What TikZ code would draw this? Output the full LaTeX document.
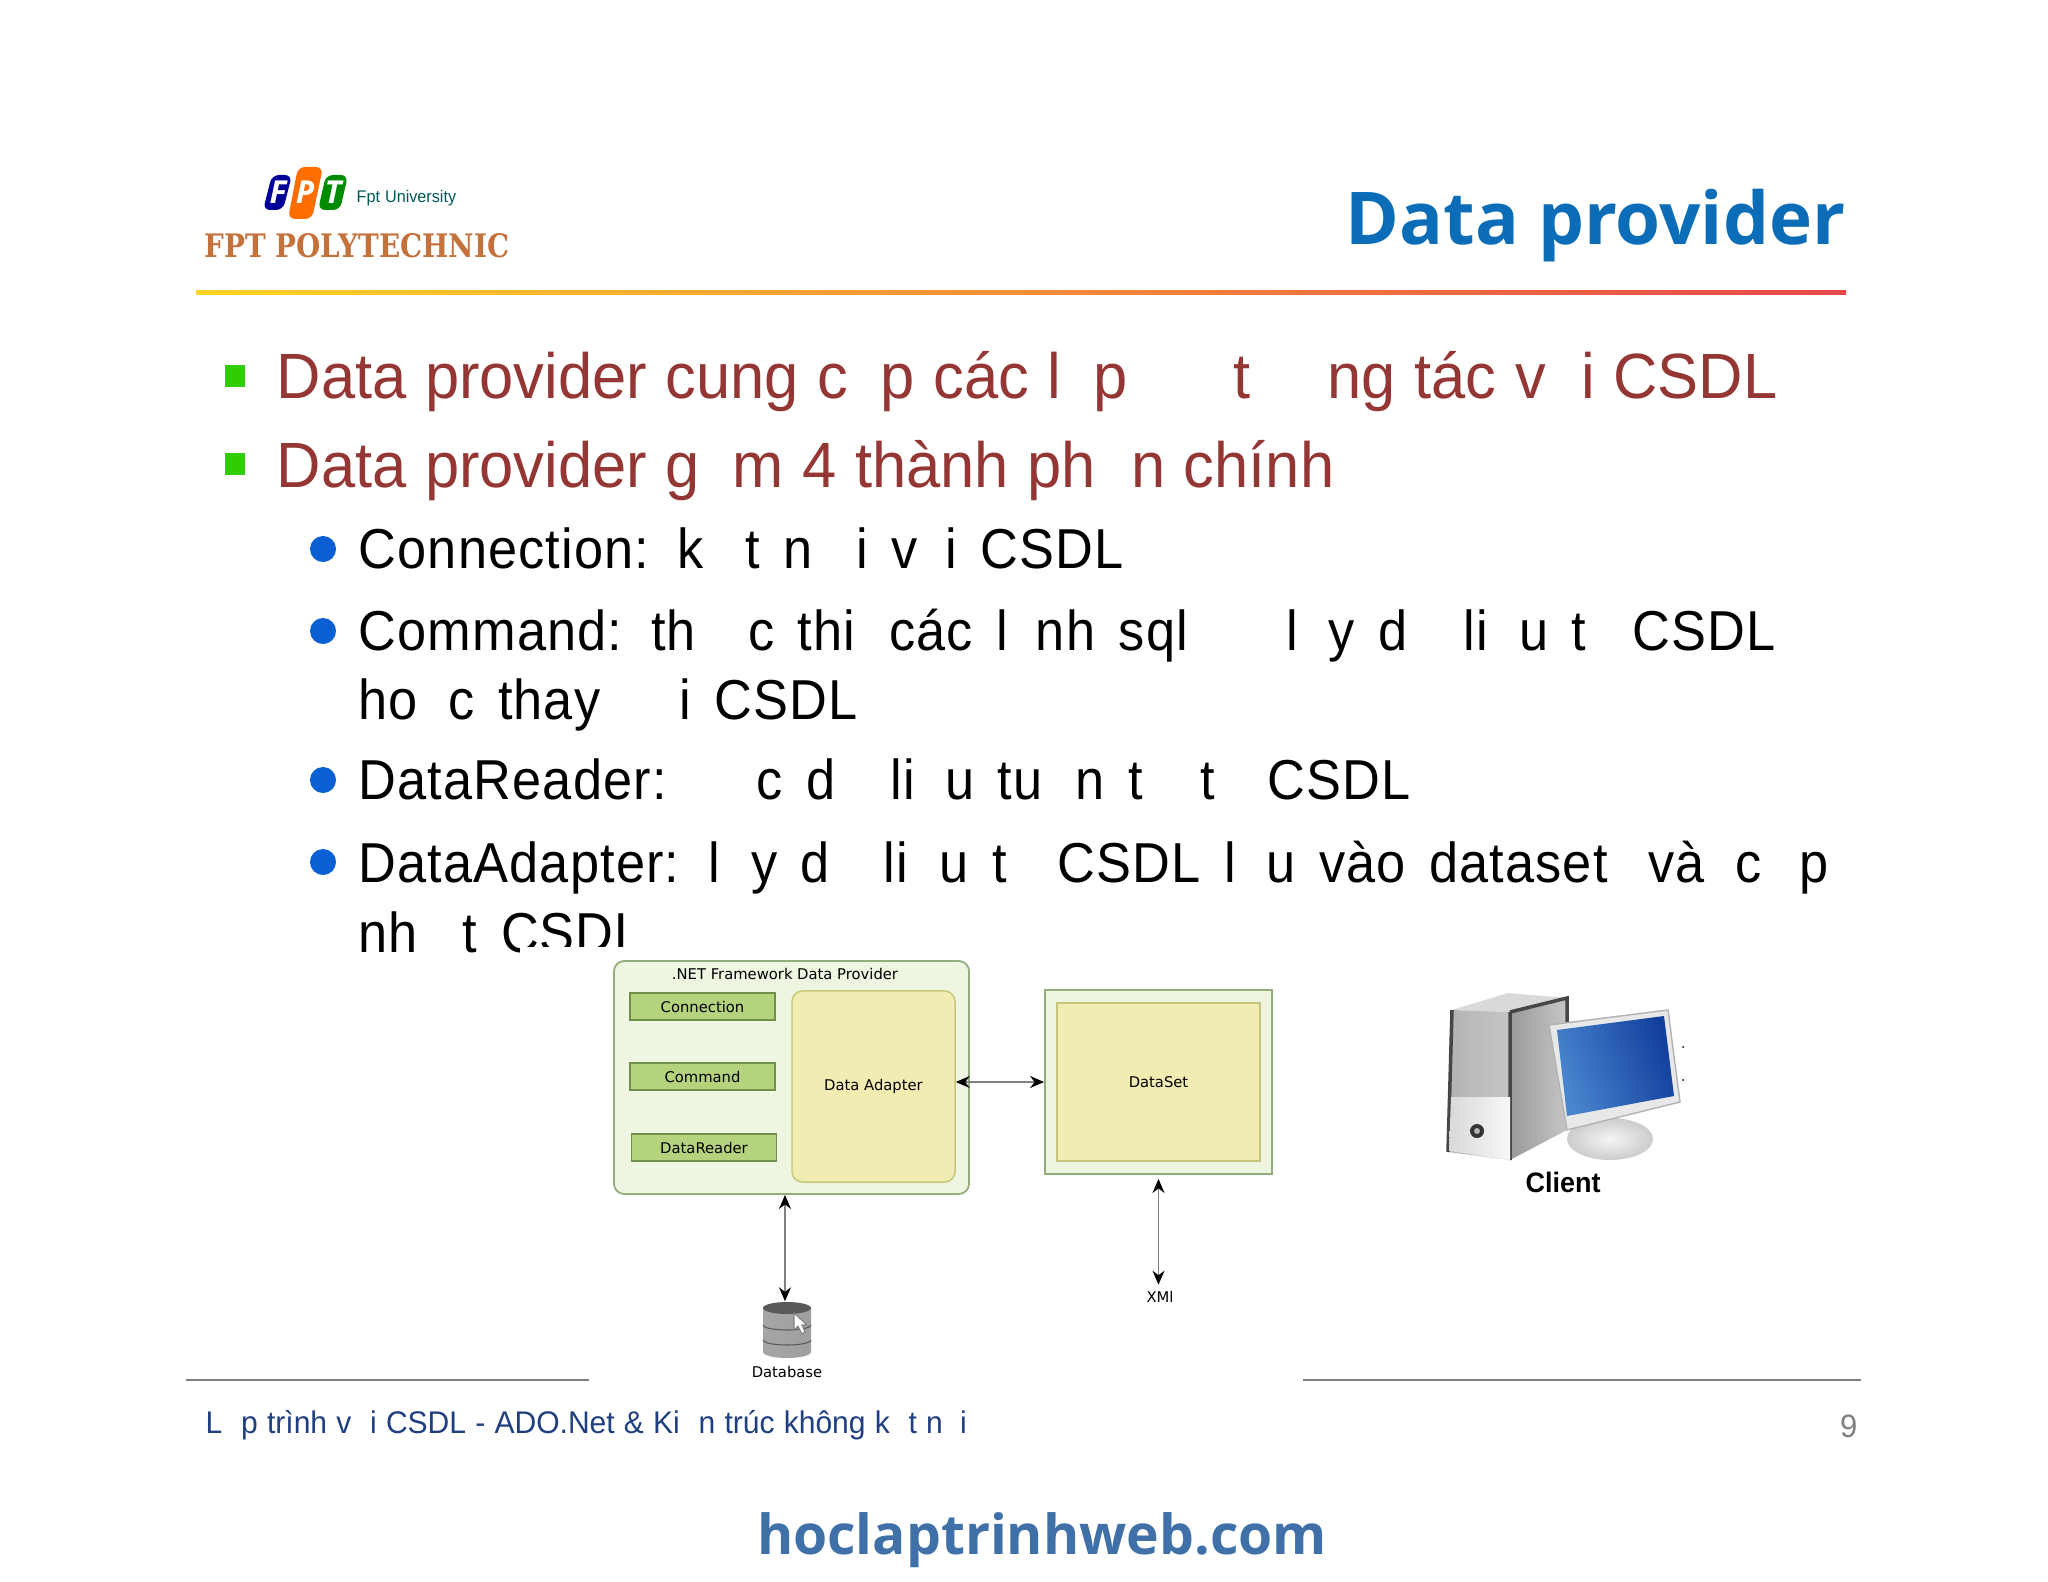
\documentclass[tikz,border=0pt]{standalone}
\usepackage{fontspec}
\usepackage{tikz}
\setmainfont[FakeStretch=0.96,WordSpace=1.1]{Liberation Sans}
\newfontfamily\subfont[FakeStretch=0.93,LetterSpace=2,WordSpace=1.5]{Liberation Sans}
\newfontfamily\headfont{Open Sans}
\newfontfamily\slabfont[FakeStretch=0.86]{DejaVu Serif}
\newfontfamily\boxfont{DejaVu Sans}
\definecolor{titleblue}{HTML}{0B6DB7}
\definecolor{bodyred}{HTML}{943634}
\definecolor{bulletgreen}{HTML}{33CC00}
\definecolor{bulletblue}{HTML}{0A60D2}
\definecolor{footnavy}{HTML}{1F3F80}
\definecolor{rulegray}{HTML}{808080}
\definecolor{webblue}{HTML}{4070A8}
\definecolor{polyorange}{HTML}{C4713C}
\definecolor{panelgreen}{HTML}{EEF5E1}
\definecolor{paneledge}{HTML}{93AC7C}
\definecolor{partgreen}{HTML}{B5D27C}
\definecolor{partedge}{HTML}{6F8F4A}
\definecolor{adapteryellow}{HTML}{F0ECB2}
\definecolor{adapteredge}{HTML}{C6C67A}
\definecolor{screenlight}{HTML}{4A86D0}
\definecolor{screendark}{HTML}{123F9C}
\definecolor{ruleyellow}{HTML}{FFD424}
\definecolor{ruleorange}{HTML}{F7A534}
\definecolor{rulered}{HTML}{E8474A}
\newcommand{\gp}[1]{\hspace{#1em}}
\tikzset{
    lineone/.style={anchor=base west, inner sep=0pt, text=bodyred, font=\fontsize{18.2}{20}\selectfont},
    linetwo/.style={anchor=base west, inner sep=0pt, text=black, font=\subfont\fontsize{16}{18}\selectfont},
    squarebullet/.style={fill=bulletgreen, inner sep=0pt, minimum width=0.2cm, minimum height=0.22cm},
    roundbullet/.style={circle, fill=bulletblue, inner sep=0pt, minimum size=0.26cm},
    partbox/.style={draw=partedge, fill=partgreen, line width=0.4pt, inner sep=0pt, minimum width=1.45cm, minimum height=0.27cm, font=\boxfont\fontsize{4.2}{5}\selectfont},
    yellowbox/.style={draw=adapteredge, fill=adapteryellow, line width=0.4pt, inner sep=0pt, font=\boxfont\fontsize{4.2}{5}\selectfont},
    panelbox/.style={draw=paneledge, fill=panelgreen, line width=0.5pt, inner sep=0pt},
    plainlabel/.style={inner sep=0pt, font=\boxfont\fontsize{4.2}{5}\selectfont},
    linkarrow/.style={draw=gray, line width=0.4pt, {Stealth[black,length=1.4mm,width=1.2mm]}-{Stealth[black,length=1.4mm,width=1.2mm]}},
    logoletter/.style={inner sep=0pt, text=white, font=\headfont\bfseries\itshape\fontsize{9}{10}\selectfont}
}
\usetikzlibrary{arrows.meta}
\begin{document}
\begin{tikzpicture}[x=0.01cm, y=-0.01cm]
    \useasboundingbox (0,0) rectangle (2048,1582);
    % header
    \node[anchor=base east, inner sep=0pt, text=titleblue, font=\headfont\bfseries\fontsize{20.7}{24}\selectfont] (title) at (1846,245) {Data provider};
    \shade[left color=ruleyellow, middle color=ruleorange, right color=rulered, shading angle=90] (196,291) rectangle (1846,295);
    % logo
    \fill[fill=blue!60!black, rounded corners=2pt] (272,175) -- (292,175) -- (283,210) -- (263,210) -- cycle;
    \fill[fill=orange!85!red, rounded corners=2pt] (298,167) -- (323,167) -- (312,219) -- (288,219) -- cycle;
    \fill[fill=green!55!black, rounded corners=2pt] (326,175) -- (348,175) -- (340,210) -- (318,210) -- cycle;
    \node[logoletter] (logoF) at (278,192) {F};
    \node[logoletter] (logoP) at (305,192) {P};
    \node[logoletter] (logoT) at (333,192) {T};
    \node[anchor=base west, inner sep=0pt, text=teal!70!black, font=\fontsize{4.8}{6}\selectfont] (fptuni) at (356,203) {Fpt University};
    \node[anchor=base west, inner sep=0pt, text=polyorange, font=\slabfont\bfseries\fontsize{9.2}{10}\selectfont] (poly) at (204,258) {FPT POLYTECHNIC};
    % body text
    \node[squarebullet] (sq1) at (235,376) {};
    \node[squarebullet] (sq2) at (235,464) {};
    \node[lineone] (l1) at (276,398) {Data provider cung c\gp{.5}p các l\gp{.5}p\gp{1.65}t\gp{1.2}ng tác v\gp{.55}i CSDL};
    \node[lineone] (l2) at (276,487) {Data provider g\gp{.5}m 4 thành ph\gp{.55}n chính};
    \node[roundbullet] (c1) at (323,549) {};
    \node[roundbullet] (c2) at (323,631) {};
    \node[roundbullet] (c3) at (323,780) {};
    \node[roundbullet] (c4) at (323,862) {};
    \node[linetwo] (l3) at (358,568) {Connection: k\gp{.74}t n\gp{.77}i v\gp{.5}i CSDL};
    \node[linetwo] (l4) at (358,650) {Command: th\gp{.93}c thi \gp{.18}các l\gp{.5}nh sql\gp{1.76}l\gp{.53}y d\gp{1}li\gp{.56}u t\gp{.82}CSDL};
    \node[linetwo] (l5) at (358,719) {ho\gp{.54}c thay\gp{1.4}i CSDL};
    \node[linetwo] (l6) at (358,799) {DataReader:\gp{1.6}c d\gp{.98}li\gp{.54}u tu\gp{.59}n t\gp{1.03}t\gp{.92}CSDL};
    \node[linetwo] (l7) at (358,882) {DataAdapter: l\gp{.56}y d\gp{.96}li\gp{.56}u t\gp{.9}CSDL l\gp{.55}u vào dataset \gp{.3}và \gp{.14}c\gp{.66}p};
    \node[linetwo] (l8) at (358,952) {nh\gp{.8}t CSDL};
    \fill[white] (520,947) rectangle (1900,1370);
    % diagram
    \node[panelbox, rounded corners=3pt, minimum width=3.55cm, minimum height=2.33cm] (provider) at (791.5,1077.5) {};
    \node[plainlabel] (providerlabel) at (785,974) {.NET Framework Data Provider};
    \node[partbox] (connection) at (702.5,1006.5) {Connection};
    \node[partbox] (command) at (702.5,1076.5) {Command};
    \node[partbox] (datareader) at (704,1147.5) {DataReader};
    \node[yellowbox, rounded corners=3pt, minimum width=1.63cm, minimum height=1.91cm] (adapter) at (873.5,1086.5) {Data Adapter};
    \node[panelbox, minimum width=2.27cm, minimum height=1.84cm] (dataset) at (1158.5,1082) {};
    \node[yellowbox, minimum width=2.03cm, minimum height=1.58cm] (datasetin) at (1158.5,1082) {DataSet};
    \node[inner sep=0pt, minimum width=0.48cm, minimum height=0.56cm] (database) at (785,1330) {};
    \node[plainlabel] (databaselabel) at (787,1372) {Database};
    \node[plainlabel] (xml) at (1160,1297) {XMl};
    \draw[linkarrow] (adapter.east |- dataset.west) to (dataset.west);
    \draw[linkarrow] (database.north) to (database.north |- provider.south);
    \draw[linkarrow, shorten <=0.04cm, shorten >=0.06cm] (dataset.south) to (dataset.south |- xml.north);
    % database drum
    \shade[left color=gray!70, middle color=gray!15, right color=gray!75] (763,1308) -- (763,1352) arc[start angle=180, end angle=360, x radius=24, y radius=-6] -- (811,1308) -- cycle;
    \fill[gray!70!black] (787,1308) circle[x radius=24, y radius=6];
    \draw[gray!70!black, line width=0.3pt] (763,1325) arc[start angle=180, end angle=360, x radius=24, y radius=-5];
    \draw[gray!70!black, line width=0.3pt] (763,1340) arc[start angle=180, end angle=360, x radius=24, y radius=-5];
    \filldraw[fill=white, draw=gray, line width=0.3pt] (794,1313) -- (794,1330) -- (798,1326) -- (802,1334) -- (805,1332) -- (802,1325) -- (807,1325) -- cycle;
    % client computer
    \fill[gray!30] (1452,1010) -- (1508,993) -- (1567,998) -- (1510,1012) -- cycle;
    \shade[left color=gray!60, middle color=gray!12, right color=gray!45] (1452,1010) -- (1510,1012) -- (1510,1160) -- (1448,1152) -- cycle;
    \shade[left color=gray!80, right color=gray!45] (1510,1012) -- (1567,998) -- (1567,1130) -- (1510,1160) -- cycle;
    \draw[gray!55!black, line width=1pt] (1452,1010) -- (1448,1152) (1510,1012) -- (1510,1160) (1510,1012) -- (1567,998) -- (1567,1040);
    \shade[left color=gray!30, right color=gray!6] (1451,1097) -- (1510,1097) -- (1510,1160) -- (1449,1151) -- cycle;
    \fill[black!80] (1477,1131) circle[radius=7];
    \fill[gray!60] (1477,1131) circle[radius=3];
    \shade[inner color=gray!8, outer color=gray!40] (1610,1139) circle[x radius=43, y radius=21];
    \fill[gray!18] (1549,1025) -- (1668,1010) -- (1680,1102) -- (1567,1130) -- cycle;
    \draw[gray!60, line width=0.4pt] (1549,1025) -- (1668,1010) -- (1680,1102) -- (1567,1130) -- cycle;
    \shade[left color=screenlight, right color=screendark, shading angle=110] (1557,1030) -- (1664,1016) -- (1674,1096) -- (1567,1116) -- cycle;
    \fill[black] (1683,1047) circle[radius=1];
    \fill[black] (1683,1080) circle[radius=1];
    \node[inner sep=0pt, font=\bfseries\fontsize{8}{9}\selectfont] (client) at (1563,1182) {Client};
    % footer
    \draw[rulegray, line width=0.7pt] (186,1380) -- (589,1380);
    \draw[rulegray, line width=0.7pt] (1303,1380) -- (1861,1380);
    \node[anchor=base west, inner sep=0pt, text=footnavy, font=\fontsize{8.9}{11}\selectfont] (footer) at (205,1433) {L\gp{.6}p trình v\gp{.6}i CSDL - ADO.Net \& Ki\gp{.6}n trúc không k\gp{.6}t n\gp{.55}i};
    \node[anchor=base east, inner sep=0pt, text=rulegray, font=\fontsize{9.2}{11}\selectfont] (pagenum) at (1858,1437) {9};
    \node[anchor=base, inner sep=0pt, text=webblue, font=\headfont\bfseries\fontsize{15.7}{20}\selectfont] (website) at (1042,1554) {hoclaptrinhweb.com};
\end{tikzpicture}
\end{document}
